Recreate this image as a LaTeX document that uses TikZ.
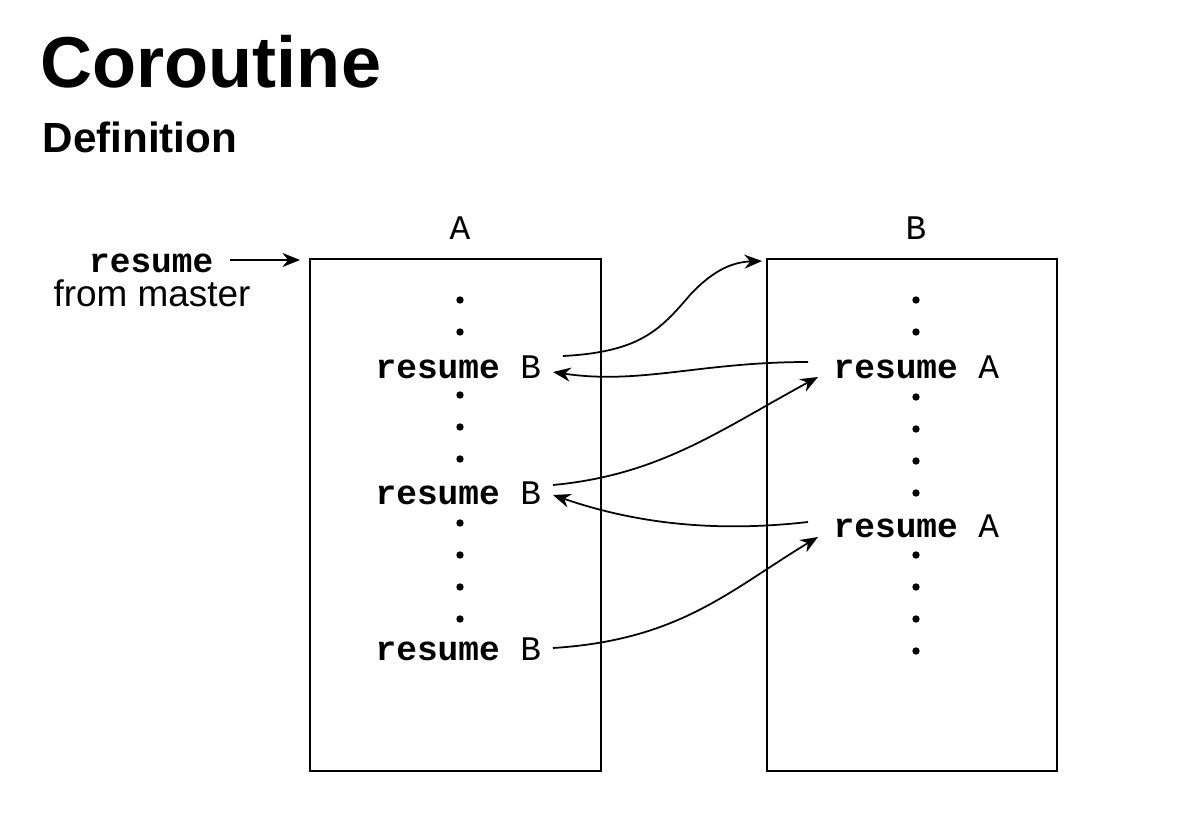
\documentclass[tikz,border=0pt]{standalone}
\usepackage{fontspec}
\setmainfont{Liberation Sans}
\newfontfamily\monof{Liberation Mono}
\usetikzlibrary{arrows.meta}
\begin{document}
\begin{tikzpicture}[x=0.01cm,y=-0.01cm,
  code/.style={font=\monof\fontsize{9.8}{11}\selectfont,inner sep=0pt},
  dot/.style={circle,fill=black,inner sep=0pt,minimum size=2.1pt},
  arr/.style={-{Stealth[length=5pt,width=4pt]},line width=0.5pt},
  boxst/.style={draw,line width=0.6pt,inner sep=0pt}]
\useasboundingbox (0,0) rectangle (1200,840);
\node[anchor=base west,inner sep=0pt,font=\bfseries\fontsize{20.5}{24}\selectfont] (title) at (40,88) {Coroutine};
\node[anchor=base west,inner sep=0pt,font=\bfseries\fontsize{12}{14}\selectfont] (sub) at (42,153) {Definition};
\node[boxst,minimum width=291*0.01cm,minimum height=512*0.01cm] (boxA) at (455.5,515) {};
\node[boxst,minimum width=290*0.01cm,minimum height=512*0.01cm] (boxB) at (912,515) {};
\node[code] (la) at (460,228) {A};
\node[code] (lb) at (916,228) {B};
\node[code,anchor=east] (rm) at (214,263) {\bfseries resume};
\node[inner sep=0pt,font=\fontsize{10.5}{12}\selectfont] (fm) at (152,293) {from master};
\coordinate (rme) at (230,260);
\coordinate (Atl) at (300,260);
\draw[arr] (rme) -- (Atl);
\foreach \y in {300,332,395,427,459,523,555,587,619} \node[dot] at (460,\y) {};
\foreach \y in {300,332,397,429,461,493,555,587,619,651} \node[dot] at (916,\y) {};
\node[code,anchor=west] (ab1) at (375,367) {\bfseries resume\mdseries\ B};
\node[code,anchor=west] (ab2) at (375,493) {\bfseries resume\mdseries\ B};
\node[code,anchor=west] (ab3) at (375,649) {\bfseries resume\mdseries\ B};
\node[code,anchor=west] (ba1) at (833,367) {\bfseries resume\mdseries\ A};
\node[code,anchor=west] (ba2) at (833,526) {\bfseries resume\mdseries\ A};
\coordinate (Btl) at (762,261);
\draw[arr] (563,356) .. controls (640,352) and (660,330) .. (690,295) .. controls (715,268) and (735,262) .. (Btl);
\draw[arr] (808,362) .. controls (700,362) and (640,385) .. (553,372);
\draw[arr] (553,485) .. controls (660,475) and (720,430) .. (818,377);
\draw[arr] (808,522) .. controls (720,532) and (640,525) .. (553,495);
\draw[arr] (553,648) .. controls (680,640) and (730,590) .. (818,537);
\end{tikzpicture}
\end{document}
